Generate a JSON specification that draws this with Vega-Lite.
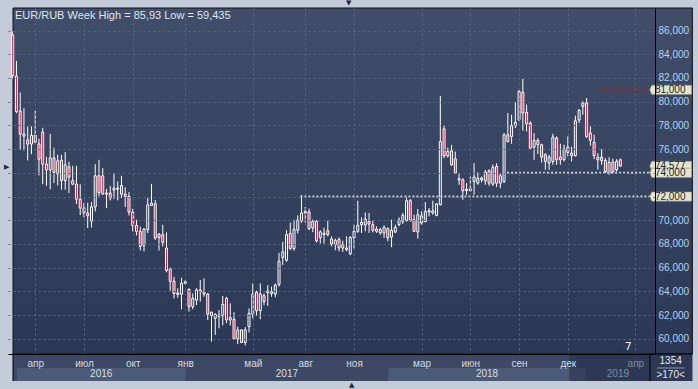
{
  "$schema": "https://vega.github.io/schema/vega-lite/v6.json",
  "description": "EUR/RUB Week High = 85,93 Low = 59,435",
  "width": 647,
  "height": 346,
  "autosize": {"type": "none"},
  "padding": {"left": 8, "top": 8, "right": 43, "bottom": 35},
  "background": "#c3ccd8",
  "config": {"view": {"stroke": null}, "font": "Liberation Sans"},
  "resolve": {"axis": {"x": "independent", "y": "independent"}},
  "datasets": {
    "candles": [
      {"i":1,"o":85.63,"h":85.93,"l":81.98,"c":82.2},
      {"i":2,"o":82.17,"h":83.44,"l":79.03,"c":79.17},
      {"i":3,"o":79.22,"h":80.77,"l":75.94,"c":77.26},
      {"i":4,"o":77.26,"h":79.45,"l":75.88,"c":77.09},
      {"i":5,"o":76.78,"h":77.9,"l":75.04,"c":76.42},
      {"i":6,"o":76.42,"h":77.93,"l":75.57,"c":77.17},
      {"i":7,"o":77.17,"h":79.22,"l":76.5,"c":76.58},
      {"i":8,"o":76.44,"h":76.87,"l":73.78,"c":75.15},
      {"i":9,"o":77.43,"h":77.79,"l":73.04,"c":74.73},
      {"i":10,"o":74.73,"h":75.35,"l":72.9,"c":74.25},
      {"i":11,"o":74.25,"h":77.29,"l":72.62,"c":75.26},
      {"i":12,"o":75.26,"h":76.11,"l":73.13,"c":74.03},
      {"i":13,"o":73.92,"h":75.52,"l":72.93,"c":75.01},
      {"i":14,"o":75.07,"h":75.52,"l":72.57,"c":73.35},
      {"i":15,"o":73.35,"h":75.74,"l":72.57,"c":74.67},
      {"i":16,"o":74.51,"h":74.93,"l":72.29,"c":73.63},
      {"i":17,"o":73.33,"h":74.59,"l":72.96,"c":73.04},
      {"i":18,"o":73.04,"h":74.59,"l":71.36,"c":71.78},
      {"i":19,"o":71.78,"h":73.04,"l":70.43,"c":71.02},
      {"i":20,"o":71.02,"h":71.47,"l":70.24,"c":70.6},
      {"i":21,"o":70.6,"h":71.47,"l":69.34,"c":70.38},
      {"i":22,"o":69.93,"h":71.53,"l":69.39,"c":71.13},
      {"i":23,"o":71.13,"h":74.73,"l":70.74,"c":73.75},
      {"i":24,"o":73.75,"h":75.1,"l":72.01,"c":72.34},
      {"i":25,"o":73.75,"h":74.39,"l":72.15,"c":72.2},
      {"i":26,"o":72.2,"h":72.65,"l":71.02,"c":72.29},
      {"i":27,"o":72.29,"h":72.9,"l":71.67,"c":71.87},
      {"i":28,"o":72.54,"h":73.97,"l":71.78,"c":72.71},
      {"i":29,"o":72.62,"h":73.27,"l":71.67,"c":72.71},
      {"i":30,"o":72.93,"h":73.75,"l":71.87,"c":72.2},
      {"i":31,"o":72.2,"h":72.79,"l":71.11,"c":72.01},
      {"i":32,"o":72.01,"h":72.37,"l":70.4,"c":70.69},
      {"i":33,"o":70.69,"h":70.97,"l":69.06,"c":69.56},
      {"i":34,"o":69.56,"h":70.04,"l":68.72,"c":69.06},
      {"i":35,"o":69.06,"h":69.48,"l":67.45,"c":67.79},
      {"i":36,"o":67.88,"h":69.34,"l":67.37,"c":69.25},
      {"i":37,"o":69.2,"h":71.87,"l":68.92,"c":71.3},
      {"i":38,"o":71.25,"h":73.07,"l":71.2,"c":71.44},
      {"i":39,"o":71.39,"h":71.72,"l":68.35,"c":68.49},
      {"i":40,"o":68.83,"h":68.92,"l":67.45,"c":68.55},
      {"i":41,"o":68.78,"h":69.62,"l":67.79,"c":68.13},
      {"i":42,"o":67.65,"h":68.97,"l":65.6,"c":65.77},
      {"i":43,"o":65.91,"h":66.02,"l":64.06,"c":64.84},
      {"i":44,"o":64.87,"h":65.23,"l":63.41,"c":63.83},
      {"i":45,"o":63.87,"h":64.26,"l":63.47,"c":63.75},
      {"i":46,"o":63.75,"h":65.15,"l":62.49,"c":64.67},
      {"i":47,"o":64.67,"h":64.95,"l":64.6,"c":64.81},
      {"i":48,"o":64.17,"h":64.26,"l":62.29,"c":62.71},
      {"i":49,"o":62.71,"h":63.83,"l":62.49,"c":63.41},
      {"i":50,"o":63.27,"h":64.26,"l":62.85,"c":64.12},
      {"i":51,"o":64.12,"h":64.96,"l":63.13,"c":63.97},
      {"i":52,"o":63.97,"h":65.1,"l":63.55,"c":63.78},
      {"i":53,"o":63.78,"h":63.85,"l":61.59,"c":62.07},
      {"i":54,"o":61.96,"h":62.3,"l":59.77,"c":62.24},
      {"i":55,"o":61.73,"h":62.15,"l":60.33,"c":62.07},
      {"i":56,"o":61.9,"h":62.43,"l":60.89,"c":62.0},
      {"i":57,"o":61.96,"h":63.61,"l":61.12,"c":62.91},
      {"i":58,"o":63.41,"h":63.55,"l":61.31,"c":61.59},
      {"i":59,"o":61.59,"h":63.0,"l":61.12,"c":61.79},
      {"i":60,"o":61.65,"h":62.24,"l":59.91,"c":60.0},
      {"i":61,"o":60.0,"h":61.03,"l":59.55,"c":60.75},
      {"i":62,"o":60.75,"h":60.8,"l":59.63,"c":59.69},
      {"i":63,"o":59.69,"h":60.98,"l":59.435,"c":60.75},
      {"i":64,"o":61.03,"h":62.57,"l":60.53,"c":62.15},
      {"i":65,"o":62.07,"h":64.67,"l":61.73,"c":63.78},
      {"i":66,"o":63.92,"h":64.06,"l":61.96,"c":62.38},
      {"i":67,"o":62.38,"h":64.67,"l":61.65,"c":63.78},
      {"i":68,"o":63.64,"h":63.83,"l":62.83,"c":63.13},
      {"i":69,"o":63.89,"h":64.53,"l":62.77,"c":64.03},
      {"i":70,"o":63.83,"h":64.4,"l":63.55,"c":63.97},
      {"i":71,"o":63.78,"h":64.67,"l":63.5,"c":64.53},
      {"i":72,"o":64.59,"h":67.25,"l":64.4,"c":66.55},
      {"i":73,"o":66.86,"h":68.18,"l":66.22,"c":67.34},
      {"i":74,"o":66.63,"h":69.16,"l":66.5,"c":68.79},
      {"i":75,"o":68.88,"h":69.8,"l":67.48,"c":67.62},
      {"i":76,"o":67.62,"h":70.05,"l":67.42,"c":69.24},
      {"i":77,"o":69.16,"h":70.42,"l":68.88,"c":70.0},
      {"i":78,"o":69.94,"h":72.1,"l":69.77,"c":70.61},
      {"i":79,"o":70.61,"h":71.12,"l":69.8,"c":70.75},
      {"i":80,"o":70.7,"h":70.98,"l":69.16,"c":69.3},
      {"i":81,"o":69.35,"h":70.05,"l":69.0,"c":69.91},
      {"i":82,"o":69.91,"h":70.0,"l":68.12,"c":68.26},
      {"i":83,"o":68.54,"h":69.16,"l":68.04,"c":69.02},
      {"i":84,"o":68.8,"h":69.38,"l":68.04,"c":68.9},
      {"i":85,"o":69.12,"h":69.96,"l":68.65,"c":68.79},
      {"i":86,"o":68.42,"h":68.65,"l":67.8,"c":68.0},
      {"i":87,"o":67.94,"h":68.45,"l":67.47,"c":68.31},
      {"i":88,"o":68.37,"h":68.56,"l":67.38,"c":67.66},
      {"i":89,"o":67.66,"h":68.28,"l":67.33,"c":67.94},
      {"i":90,"o":67.66,"h":68.65,"l":67.38,"c":67.52},
      {"i":91,"o":67.16,"h":68.65,"l":67.05,"c":68.56},
      {"i":92,"o":68.51,"h":69.63,"l":67.61,"c":69.07},
      {"i":93,"o":69.07,"h":71.65,"l":68.93,"c":69.57},
      {"i":94,"o":69.63,"h":70.24,"l":68.93,"c":69.82},
      {"i":95,"o":69.6,"h":70.66,"l":69.07,"c":70.1},
      {"i":96,"o":69.91,"h":70.61,"l":68.93,"c":69.68},
      {"i":97,"o":69.63,"h":69.96,"l":68.98,"c":69.15},
      {"i":98,"o":69.26,"h":69.49,"l":68.93,"c":69.07},
      {"i":99,"o":68.93,"h":69.35,"l":68.79,"c":69.21},
      {"i":100,"o":68.93,"h":69.57,"l":68.51,"c":69.4},
      {"i":101,"o":69.29,"h":69.4,"l":68.22,"c":68.51},
      {"i":102,"o":68.59,"h":70.05,"l":67.72,"c":69.15},
      {"i":103,"o":69.0,"h":69.63,"l":68.93,"c":69.4},
      {"i":104,"o":69.63,"h":70.24,"l":69.49,"c":70.02},
      {"i":105,"o":69.91,"h":70.61,"l":69.68,"c":70.41},
      {"i":106,"o":69.96,"h":71.93,"l":69.91,"c":71.65},
      {"i":107,"o":71.65,"h":71.79,"l":69.91,"c":69.96},
      {"i":108,"o":70.05,"h":70.47,"l":69.01,"c":69.07},
      {"i":109,"o":69.01,"h":70.94,"l":68.45,"c":70.47},
      {"i":110,"o":70.38,"h":70.75,"l":69.63,"c":69.77},
      {"i":111,"o":69.88,"h":71.53,"l":69.85,"c":70.75},
      {"i":112,"o":70.7,"h":71.03,"l":70.33,"c":70.8},
      {"i":113,"o":70.61,"h":71.65,"l":70.47,"c":70.8},
      {"i":114,"o":70.41,"h":71.45,"l":70.33,"c":71.37},
      {"i":115,"o":71.31,"h":80.48,"l":71.25,"c":76.64},
      {"i":116,"o":77.7,"h":77.98,"l":75.23,"c":75.43},
      {"i":117,"o":75.43,"h":76.13,"l":75.29,"c":75.79},
      {"i":118,"o":75.85,"h":76.36,"l":74.59,"c":74.67},
      {"i":119,"o":75.18,"h":75.79,"l":73.89,"c":73.97},
      {"i":120,"o":73.4,"h":73.97,"l":72.99,"c":73.5},
      {"i":121,"o":73.41,"h":73.55,"l":71.73,"c":72.49},
      {"i":122,"o":72.51,"h":73.13,"l":72.15,"c":72.62},
      {"i":123,"o":72.65,"h":73.69,"l":72.43,"c":72.49},
      {"i":124,"o":73.27,"h":74.81,"l":72.15,"c":73.64},
      {"i":125,"o":73.13,"h":74.03,"l":72.99,"c":73.55},
      {"i":126,"o":73.41,"h":73.7,"l":73.2,"c":73.55},
      {"i":127,"o":73.33,"h":74.25,"l":72.99,"c":74.06},
      {"i":128,"o":74.17,"h":74.3,"l":72.9,"c":73.13},
      {"i":129,"o":73.05,"h":74.7,"l":72.9,"c":74.45},
      {"i":130,"o":74.54,"h":74.8,"l":72.79,"c":73.13},
      {"i":131,"o":73.13,"h":73.97,"l":72.7,"c":73.75},
      {"i":132,"o":73.27,"h":77.35,"l":73.13,"c":77.21},
      {"i":133,"o":77.21,"h":79.04,"l":76.56,"c":76.65},
      {"i":134,"o":77.07,"h":78.9,"l":76.45,"c":77.97},
      {"i":135,"o":77.97,"h":79.97,"l":77.77,"c":78.25},
      {"i":136,"o":78.48,"h":81.01,"l":78.34,"c":80.87},
      {"i":137,"o":80.79,"h":81.92,"l":77.55,"c":79.04},
      {"i":138,"o":79.1,"h":79.75,"l":77.49,"c":78.14},
      {"i":139,"o":78.2,"h":78.34,"l":76.0,"c":76.08},
      {"i":140,"o":76.17,"h":77.35,"l":75.1,"c":76.73},
      {"i":141,"o":76.73,"h":76.93,"l":75.58,"c":76.37},
      {"i":142,"o":76.37,"h":76.45,"l":74.87,"c":75.32},
      {"i":143,"o":75.52,"h":75.66,"l":74.25,"c":74.96},
      {"i":144,"o":74.82,"h":75.52,"l":74.25,"c":75.32},
      {"i":145,"o":74.96,"h":77.3,"l":74.68,"c":77.01},
      {"i":146,"o":76.93,"h":77.07,"l":74.68,"c":75.1},
      {"i":147,"o":75.32,"h":76.45,"l":74.68,"c":75.1},
      {"i":148,"o":75.1,"h":76.37,"l":74.96,"c":76.0},
      {"i":149,"o":76.17,"h":77.07,"l":75.38,"c":75.72},
      {"i":150,"o":75.66,"h":76.2,"l":74.96,"c":75.44},
      {"i":151,"o":75.44,"h":78.82,"l":75.38,"c":78.39},
      {"i":152,"o":78.45,"h":79.38,"l":78.2,"c":79.27},
      {"i":153,"o":79.61,"h":80.03,"l":78.9,"c":79.89},
      {"i":154,"o":79.89,"h":80.31,"l":76.93,"c":77.07},
      {"i":155,"o":77.35,"h":77.92,"l":76.28,"c":76.73},
      {"i":156,"o":76.56,"h":77.21,"l":75.15,"c":75.44},
      {"i":157,"o":75.1,"h":75.66,"l":74.25,"c":75.32},
      {"i":158,"o":75.32,"h":76.0,"l":74.68,"c":75.04},
      {"i":159,"o":75.04,"h":75.24,"l":73.97,"c":74.11},
      {"i":160,"o":73.97,"h":75.32,"l":73.83,"c":74.87},
      {"i":161,"o":74.9,"h":75.2,"l":73.97,"c":74.11},
      {"i":162,"o":74.25,"h":75.15,"l":74.11,"c":74.96},
      {"i":163,"o":75.1,"h":75.2,"l":74.5,"c":74.577}
    ],
    "levels": [
      {"v":74.577,"label":"74,577","kind":"price"},
      {"v":81,"from":157.9,"label":"81,000","kind":"red"},
      {"v":74,"from":132.8,"label":"74,000","kind":"white"},
      {"v":72,"from":77.7,"label":"72,000","kind":"white"}
    ],
    "years": [
      {"year":"2016","start":2.13,"end":47.1,"center":24.6,"light":true},
      {"year":"2017","start":47.1,"end":101.1,"center":74.1,"light":false},
      {"year":"2018","start":101.1,"end":153.8,"center":127.45,"light":true},
      {"year":"2019","start":153.8,"end":170.9,"center":162.35,"light":false}
    ]
  },
  "layer": [
    {
      "data": {"values": [{}]},
      "mark": {"type": "rect", "fill": {"gradient": "linear", "x1": 0, "y1": 0, "x2": 0, "y2": 1, "stops": [{"offset": 0, "color": "#414e6a"}, {"offset": 1, "color": "#2b3855"}]}, "stroke": "#0d121b", "strokeWidth": 1},
      "encoding": {
        "x": {"datum": 1.08, "type": "quantitative", "scale": {"domain": [1.08, 170.9], "nice": false, "zero": false}, "axis": null},
        "x2": {"datum": 182.2},
        "y": {"datum": 87.9, "type": "quantitative", "scale": {"domain": [58.72, 87.9], "nice": false, "zero": false}, "axis": null},
        "y2": {"datum": 58.72}
      }
    },
    {
      "data": {"values": [{}]},
      "mark": {"type": "rect", "fill": "#3d4964"},
      "encoding": {
        "x": {"datum": 1.08, "type": "quantitative", "scale": {"domain": [1.08, 170.9], "nice": false, "zero": false}, "axis": null},
        "x2": {"datum": 182.2},
        "y": {"datum": 58.72, "type": "quantitative", "scale": {"domain": [58.72, 87.9], "nice": false, "zero": false}, "axis": null},
        "y2": {"datum": 56.44}
      }
    },
    {
      "data": {"name": "years"},
      "transform": [{"filter": "datum.light"}],
      "mark": {"type": "rect", "fill": "#4b5a76"},
      "encoding": {
        "x": {"field": "start", "type": "quantitative", "scale": {"domain": [1.08, 170.9], "nice": false, "zero": false}, "axis": null},
        "x2": {"field": "end"},
        "y": {"datum": 57.54, "type": "quantitative", "scale": {"domain": [58.72, 87.9], "nice": false, "zero": false}, "axis": null},
        "y2": {"datum": 56.44}
      }
    },
    {
      "data": {"name": "years"},
      "mark": {"type": "text", "fontSize": 10, "font": "Liberation Sans", "color": "#d8dee8", "align": "center", "baseline": "middle"},
      "encoding": {
        "x": {"field": "center", "type": "quantitative", "scale": {"domain": [1.08, 170.9], "nice": false, "zero": false}, "axis": null},
        "y": {"datum": 57.03, "type": "quantitative", "scale": {"domain": [58.72, 87.9], "nice": false, "zero": false}, "axis": null},
        "text": {"field": "year"}
      }
    },
    {
      "data": {"values": [{}]},
      "mark": {"type": "rect", "fill": "#1a2440", "opacity": 0.45},
      "encoding": {
        "x": {"datum": 149.4, "type": "quantitative", "scale": {"domain": [1.08, 170.9], "nice": false, "zero": false}, "axis": null},
        "x2": {"datum": 182.2},
        "y": {"datum": 58.72, "type": "quantitative", "scale": {"domain": [58.72, 87.9], "nice": false, "zero": false}, "axis": null},
        "y2": {"datum": 56.44}
      }
    },
    {
      "data": {"values": [{"x": 170.9, "x2": 170.9, "y": 58.72, "y2": 56.44}, {"x": 170.9, "x2": 182.2, "y": 58.72, "y2": 58.72}, {"x": 1.08, "x2": 1.08, "y": 58.72, "y2": 56.44}]},
      "mark": {"type": "rule", "color": "#000000", "strokeWidth": 1},
      "encoding": {
        "x": {"field": "x", "type": "quantitative", "scale": {"domain": [1.08, 170.9], "nice": false, "zero": false}, "axis": null},
        "x2": {"field": "x2"},
        "y": {"field": "y", "type": "quantitative", "scale": {"domain": [58.72, 87.9], "nice": false, "zero": false}, "axis": null},
        "y2": {"field": "y2"}
      }
    },
    {
      "data": {"values": [{"t": "1354", "v": 58.13}, {"t": ">170<", "v": 56.95}]},
      "mark": {"type": "text", "fontSize": 10, "font": "Liberation Sans", "color": "#e2e8f0", "align": "center", "baseline": "middle"},
      "encoding": {
        "x": {"datum": 176.4, "type": "quantitative", "scale": {"domain": [1.08, 170.9], "nice": false, "zero": false}, "axis": null},
        "y": {"field": "v", "type": "quantitative", "scale": {"domain": [58.72, 87.9], "nice": false, "zero": false}, "axis": null},
        "text": {"field": "t"}
      }
    },
    {
      "data": {"values": [{}]},
      "mark": {"type": "rule", "color": "#8c98ac", "strokeWidth": 1},
      "encoding": {
        "x": {"datum": 172.8, "type": "quantitative", "scale": {"domain": [1.08, 170.9], "nice": false, "zero": false}, "axis": null},
        "x2": {"datum": 180.1},
        "y": {"datum": 57.54, "type": "quantitative", "scale": {"domain": [58.72, 87.9], "nice": false, "zero": false}, "axis": null}
      }
    },
    {
      "data": {"name": "candles"},
      "transform": [{"filter": "datum.c >= datum.o"}],
      "mark": {"type": "rule", "color": "#ffffff", "strokeWidth": 1, "clip": true},
      "encoding": {
        "x": {"field": "i", "type": "quantitative", "scale": {"domain": [1.08, 170.9], "nice": false, "zero": false}, "axis": null},
        "y": {"field": "h", "type": "quantitative", "scale": {"domain": [58.72, 87.9], "nice": false, "zero": false}, "axis": null},
        "y2": {"field": "c"}
      }
    },
    {
      "data": {"name": "candles"},
      "transform": [{"filter": "datum.c >= datum.o"}],
      "mark": {"type": "rule", "color": "#ffffff", "strokeWidth": 1, "clip": true},
      "encoding": {
        "x": {"field": "i", "type": "quantitative", "scale": {"domain": [1.08, 170.9], "nice": false, "zero": false}, "axis": null},
        "y": {"field": "o", "type": "quantitative", "scale": {"domain": [58.72, 87.9], "nice": false, "zero": false}, "axis": null},
        "y2": {"field": "l"}
      }
    },
    {
      "data": {"name": "candles"},
      "transform": [{"filter": "datum.c < datum.o"}],
      "mark": {"type": "rule", "color": "#ffffff", "strokeWidth": 1, "clip": true},
      "encoding": {
        "x": {"field": "i", "type": "quantitative", "scale": {"domain": [1.08, 170.9], "nice": false, "zero": false}, "axis": null},
        "y": {"field": "h", "type": "quantitative", "scale": {"domain": [58.72, 87.9], "nice": false, "zero": false}, "axis": null},
        "y2": {"field": "o"}
      }
    },
    {
      "data": {"name": "candles"},
      "transform": [{"filter": "datum.c < datum.o"}],
      "mark": {"type": "rule", "color": "#ffffff", "strokeWidth": 1, "clip": true},
      "encoding": {
        "x": {"field": "i", "type": "quantitative", "scale": {"domain": [1.08, 170.9], "nice": false, "zero": false}, "axis": null},
        "y": {"field": "c", "type": "quantitative", "scale": {"domain": [58.72, 87.9], "nice": false, "zero": false}, "axis": null},
        "y2": {"field": "l"}
      }
    },
    {
      "data": {"name": "candles"},
      "transform": [{"filter": "datum.c < datum.o"}],
      "mark": {"type": "bar", "size": 2, "fill": "#e3143f", "stroke": "#ffffff", "strokeWidth": 1, "clip": true},
      "encoding": {
        "x": {"field": "i", "type": "quantitative", "scale": {"domain": [1.08, 170.9], "nice": false, "zero": false}, "axis": null},
        "y": {"field": "o", "type": "quantitative", "scale": {"domain": [58.72, 87.9], "nice": false, "zero": false}, "axis": null},
        "y2": {"field": "c"}
      }
    },
    {
      "data": {"name": "candles"},
      "transform": [{"filter": "datum.c >= datum.o"}],
      "mark": {"type": "bar", "size": 2, "fill": "transparent", "stroke": "#ffffff", "strokeWidth": 1, "clip": true},
      "encoding": {
        "x": {"field": "i", "type": "quantitative", "scale": {"domain": [1.08, 170.9], "nice": false, "zero": false},
          "axis": {"title": null, "orient": "bottom", "values": [7, 20, 33, 47, 65, 79, 92, 110, 123, 136, 149, 167],
            "labelExpr": "['апр','июл','окт','янв','май','авг','ноя','мар','июн','сен','дек','апр'][indexof([7,20,33,47,65,79,92,110,123,136,149,167], datum.value)]",
            "grid": true, "gridColor": "#5a6886", "gridDash": [2, 3], "gridWidth": 1, "ticks": false, "domain": true, "domainColor": "#000000", "domainWidth": 1,
            "labelFont": "Liberation Sans", "labelFontSize": 10, "labelPadding": 4, "labelFlush": false, "labelOverlap": false,
            "labelColor": {"condition": {"test": "datum.value > 160", "value": "#808b9f"}, "value": "#d3dae5"}, "zindex": 1}},
        "y": {"field": "o", "type": "quantitative", "scale": {"domain": [58.72, 87.9], "nice": false, "zero": false},
          "axis": {"title": null, "orient": "right", "values": [60, 62, 64, 66, 68, 70, 72, 74, 76, 78, 80, 82, 84, 86],
            "labelExpr": "datum.value == 72 || datum.value == 74 ? '' : replace(format(datum.value, '.3f'), '.', ',')",
            "grid": true, "gridColor": "#5a6886", "gridDash": [2, 3], "gridWidth": 1, "ticks": false, "domain": true, "domainColor": "#000000", "domainWidth": 1,
            "labelFont": "Liberation Sans", "labelFontSize": 10, "labelPadding": 3, "labelColor": "#b4d2f2", "labelOverlap": false, "zindex": 1}},
        "y2": {"field": "c"}
      }
    },
    {
      "data": {"name": "levels"},
      "transform": [{"filter": "isValid(datum.from)"}],
      "mark": {"type": "rule", "strokeWidth": 2, "strokeDash": [2, 2]},
      "encoding": {
        "x": {"field": "from", "type": "quantitative", "scale": {"domain": [1.08, 170.9], "nice": false, "zero": false}, "axis": null},
        "x2": {"datum": 170.9},
        "y": {"field": "v", "type": "quantitative", "scale": {"domain": [58.72, 87.9], "nice": false, "zero": false}, "axis": null},
        "stroke": {"condition": {"test": "datum.kind == 'red'", "value": "#b81d2c"}, "value": "#c9ced7"}
      }
    },
    {
      "data": {"name": "levels"},
      "mark": {"type": "point", "shape": "M-1,0L-0.9,-0.22L1,-0.22L1,0.22L-0.9,0.22Z", "size": 1764, "filled": true, "fill": "#e6e4cc", "stroke": "#8f8d78", "strokeWidth": 0.6, "opacity": 1},
      "encoding": {
        "x": {"datum": 176.4, "type": "quantitative", "scale": {"domain": [1.08, 170.9], "nice": false, "zero": false}, "axis": null},
        "y": {"field": "v", "type": "quantitative", "scale": {"domain": [58.72, 87.9], "nice": false, "zero": false}, "axis": null}
      }
    },
    {
      "data": {"name": "levels"},
      "mark": {"type": "text", "fontSize": 10, "font": "Liberation Sans", "color": "#1b2536", "align": "left", "baseline": "middle", "dy": 0.5},
      "encoding": {
        "x": {"datum": 172.2, "type": "quantitative", "scale": {"domain": [1.08, 170.9], "nice": false, "zero": false}, "axis": null},
        "y": {"field": "v", "type": "quantitative", "scale": {"domain": [58.72, 87.9], "nice": false, "zero": false}, "axis": null},
        "text": {"field": "label"}
      }
    },
    {
      "data": {"values": [{"t": "EUR/RUB Week High = 85,93 Low = 59,435"}]},
      "mark": {"type": "text", "fontSize": 11, "font": "Liberation Sans", "color": "#dfe6ef", "align": "left", "baseline": "alphabetic"},
      "encoding": {
        "x": {"datum": 1.6, "type": "quantitative", "scale": {"domain": [1.08, 170.9], "nice": false, "zero": false}, "axis": null},
        "y": {"datum": 86.97, "type": "quantitative", "scale": {"domain": [58.72, 87.9], "nice": false, "zero": false}, "axis": null},
        "text": {"field": "t"}
      }
    },
    {
      "data": {"values": [
        {"t": "7", "x": 165.1, "v": 59.35, "kind": "num"},
        {"t": "▲", "x": 162.7, "v": 59.2, "kind": "tri"},
        {"t": "▼", "x": 90.58, "v": 88.28, "kind": "frame"},
        {"t": "▲", "x": 91.37, "v": 56.07, "kind": "frame"},
        {"t": "▶", "x": -0.6, "v": 74.49, "kind": "frame"}
      ]},
      "mark": {"type": "text", "font": "DejaVu Sans", "align": "center", "baseline": "middle"},
      "encoding": {
        "x": {"field": "x", "type": "quantitative", "scale": {"domain": [1.08, 170.9], "nice": false, "zero": false}, "axis": null},
        "y": {"field": "v", "type": "quantitative", "scale": {"domain": [58.72, 87.9], "nice": false, "zero": false}, "axis": null},
        "text": {"field": "t"},
        "size": {"condition": {"test": "datum.kind == 'num'", "value": 11}, "value": 7},
        "color": {"condition": {"test": "datum.kind == 'num'", "value": "#e8eef6"}, "value": "#202a3c"},
        "opacity": {"condition": {"test": "datum.kind == 'tri'", "value": 0.35}, "value": 1}
      }
    }
  ]
}
